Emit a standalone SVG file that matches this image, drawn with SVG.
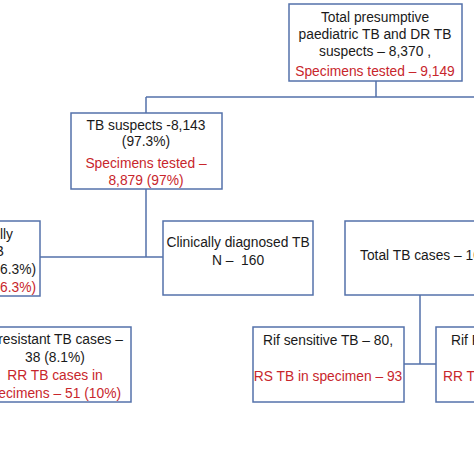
<svg xmlns="http://www.w3.org/2000/svg" width="474" height="474" viewBox="0 0 474 474">
<style>
.box{fill:#fff;stroke:#5472ab;stroke-width:1.5}
.ln{stroke:#5472ab;stroke-width:1.5;fill:none}
text{font-family:"Liberation Sans",Arial,sans-serif;font-size:13.8px}
.k{fill:#1a1a1a}
.r{fill:#c8262c}
.m{text-anchor:middle}
.e{text-anchor:end}
</style>
<rect width="474" height="474" fill="#fff"/>
<g id="connectors">
<path class="ln" d="M376 81V97M146 97H476M146 97V113M146 189V257M40 257H163M420 295V364M404 364H436"/>
</g>
<g id="top">
<rect class="box" x="289" y="4" width="173" height="77"/>
<text class="k m" x="375" y="22">Total presumptive</text>
<text class="k m" x="375" y="39">paediatric TB and DR TB</text>
<text class="k m" x="375" y="56">suspects – 8,370 ,</text>
<text class="r m" x="375" y="76">Specimens tested – 9,149</text>
</g>
<g id="suspects">
<rect class="box" x="71" y="113" width="151" height="76"/>
<text class="k m" x="146" y="130">TB suspects -8,143</text>
<text class="k m" x="146" y="146">(97.3%)</text>
<text class="r m" x="146" y="168">Specimens tested –</text>
<text class="r m" x="146" y="185">8,879 (97%)</text>
</g>
<g id="bacterio">
<rect class="box" x="-20" y="221" width="60" height="75"/>
<text class="k e" x="13" y="239">lly</text>
<text class="k e" x="4" y="256">B</text>
<text class="k e" x="36" y="274">(6.3%)</text>
<text class="r e" x="36" y="292">6.3%)</text>
</g>
<g id="clinical">
<rect class="box" x="163" y="221" width="150" height="74"/>
<text class="k m" x="238" y="247">Clinically diagnosed TB</text>
<text class="k m" x="238" y="265">N –&#160; 160</text>
</g>
<g id="total">
<rect class="box" x="345" y="221" width="140" height="74"/>
<text class="k" x="360" y="260">Total TB cases – 10</text>
</g>
<g id="rr-left">
<rect class="box" x="-20" y="327" width="151" height="75"/>
<text class="k e" x="123" y="344">f resistant TB cases –</text>
<text class="k m" x="55" y="362">38 (8.1%)</text>
<text class="r m" x="55" y="380">RR TB cases in</text>
<text class="r e" x="121" y="398">pecimens – 51 (10%)</text>
</g>
<g id="rs">
<rect class="box" x="253" y="327" width="151" height="75"/>
<text class="k m" x="328" y="345">Rif sensitive TB – 80,</text>
<text class="r m" x="328" y="381">RS TB in specimen – 93</text>
</g>
<g id="rr-right">
<rect class="box" x="436" y="327" width="60" height="75"/>
<text class="k" x="451" y="345">Rif R</text>
<text class="r" x="443" y="381">RR TB</text>
</g>
</svg>
